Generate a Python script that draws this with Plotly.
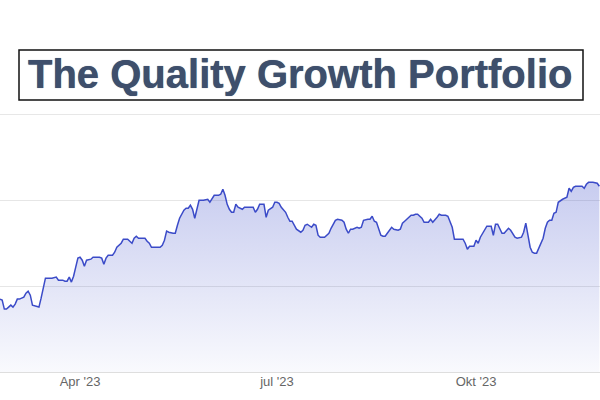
import plotly.graph_objects as go

dates = [
    "2023-02-23","2023-02-24","2023-02-25","2023-02-26","2023-02-27","2023-02-28","2023-03-01","2023-03-02",
    "2023-03-03","2023-03-04","2023-03-06","2023-03-07","2023-03-08","2023-03-09","2023-03-10","2023-03-12",
    "2023-03-13","2023-03-14","2023-03-15","2023-03-16","2023-03-17","2023-03-19","2023-03-21","2023-03-22",
    "2023-03-24","2023-03-25","2023-03-26","2023-03-27","2023-03-28","2023-03-29","2023-03-30","2023-03-31",
    "2023-04-01","2023-04-02","2023-04-03","2023-04-04","2023-04-06","2023-04-07","2023-04-09","2023-04-10",
    "2023-04-11","2023-04-12","2023-04-13","2023-04-14","2023-04-16","2023-04-17","2023-04-18","2023-04-20",
    "2023-04-21","2023-04-23","2023-04-24","2023-04-25","2023-04-26","2023-04-27","2023-04-28","2023-04-30",
    "2023-05-01","2023-05-02","2023-05-03","2023-05-04","2023-05-06","2023-05-08","2023-05-09","2023-05-10",
    "2023-05-11","2023-05-12","2023-05-14","2023-05-15","2023-05-16","2023-05-17","2023-05-19","2023-05-20",
    "2023-05-21","2023-05-22","2023-05-23","2023-05-24","2023-05-25","2023-05-26","2023-05-28","2023-05-30",
    "2023-05-31","2023-06-01","2023-06-02","2023-06-04","2023-06-05","2023-06-06","2023-06-07","2023-06-08",
    "2023-06-09","2023-06-10","2023-06-11","2023-06-12","2023-06-13","2023-06-15","2023-06-16","2023-06-19",
    "2023-06-20","2023-06-21","2023-06-22","2023-06-23","2023-06-25","2023-06-26","2023-06-27","2023-06-29",
    "2023-06-30","2023-07-01","2023-07-02","2023-07-03","2023-07-05","2023-07-06","2023-07-07","2023-07-08",
    "2023-07-09","2023-07-10","2023-07-12","2023-07-13","2023-07-14","2023-07-15","2023-07-17","2023-07-18",
    "2023-07-19","2023-07-20","2023-07-21","2023-07-23","2023-07-25","2023-07-26","2023-07-28","2023-07-29",
    "2023-07-31","2023-08-01","2023-08-02","2023-08-03","2023-08-04","2023-08-05","2023-08-07","2023-08-08",
    "2023-08-09","2023-08-10","2023-08-12","2023-08-13","2023-08-14","2023-08-15","2023-08-16","2023-08-17",
    "2023-08-18","2023-08-19","2023-08-20","2023-08-21","2023-08-23","2023-08-24","2023-08-26","2023-08-27",
    "2023-08-28","2023-08-29","2023-08-30","2023-09-01","2023-09-02","2023-09-03","2023-09-04","2023-09-06",
    "2023-09-07","2023-09-09","2023-09-10","2023-09-11","2023-09-13","2023-09-14","2023-09-15","2023-09-17",
    "2023-09-18","2023-09-19","2023-09-20","2023-09-21","2023-09-22","2023-09-25","2023-09-26","2023-09-27",
    "2023-09-28","2023-09-29","2023-09-30","2023-10-01","2023-10-02","2023-10-03","2023-10-04","2023-10-06",
    "2023-10-07","2023-10-08","2023-10-09","2023-10-10","2023-10-11","2023-10-12","2023-10-13","2023-10-14",
    "2023-10-16","2023-10-17","2023-10-18","2023-10-19","2023-10-20","2023-10-22","2023-10-23","2023-10-24",
    "2023-10-25","2023-10-26","2023-10-27","2023-10-28","2023-10-29","2023-10-30","2023-10-31","2023-11-01",
    "2023-11-02","2023-11-03","2023-11-04","2023-11-05","2023-11-06","2023-11-07","2023-11-08","2023-11-09",
    "2023-11-10","2023-11-12","2023-11-13","2023-11-14","2023-11-15","2023-11-16","2023-11-19","2023-11-20",
    "2023-11-21","2023-11-22","2023-11-24","2023-11-26","2023-11-27",
]

values = [
    8.49, 8.37, 7.33, 7.33, 7.56, 7.79, 7.56, 7.91,
    8.49, 8.49, 8.72, 9.19, 9.42, 8.95, 7.79, 7.67,
    7.56, 8.60, 9.77, 10.93, 10.93, 10.93, 11.05, 10.70,
    10.70, 10.58, 10.58, 11.05, 10.47, 11.16, 12.21, 13.26,
    13.37, 13.02, 12.33, 13.02, 13.14, 13.37, 13.37, 13.37,
    13.26, 12.56, 13.26, 13.60, 13.60, 13.95, 14.53, 15.00,
    15.47, 15.47, 15.23, 15.00, 15.58, 15.81, 15.58, 15.58,
    15.58, 15.23, 15.00, 14.53, 14.53, 14.53, 14.77, 15.35,
    16.40, 16.28, 16.16, 16.16, 17.09, 17.91, 18.84, 19.07,
    19.07, 19.42, 18.95, 17.91, 18.95, 20.00, 20.00, 20.12,
    19.77, 20.12, 20.58, 20.58, 20.70, 21.28, 20.58, 19.53,
    18.95, 18.60, 18.60, 19.53, 19.19, 18.95, 19.19, 19.19,
    19.19, 18.60, 18.95, 19.53, 19.53, 18.02, 18.84, 19.19,
    19.77, 19.77, 19.65, 19.19, 18.60, 18.02, 17.56, 17.56,
    17.09, 16.63, 16.28, 16.51, 17.09, 17.21, 16.86, 17.21,
    17.09, 15.93, 15.70, 15.70, 16.16, 16.74, 17.67, 17.79,
    17.67, 17.44, 16.63, 16.16, 16.63, 16.63, 16.86, 16.74,
    16.86, 17.67, 17.79, 17.79, 18.14, 17.56, 17.44, 16.63,
    15.93, 15.81, 15.81, 16.16, 16.86, 16.63, 16.51, 16.63,
    17.33, 17.56, 17.79, 18.26, 18.26, 18.37, 18.37, 17.91,
    17.44, 17.44, 17.79, 17.44, 18.02, 18.37, 18.26, 18.26,
    18.14, 17.44, 16.86, 15.47, 15.47, 15.47, 15.00, 14.30,
    14.65, 14.65, 14.65, 15.35, 15.00, 15.70, 16.16, 16.98,
    16.98, 16.98, 15.93, 17.21, 17.21, 16.74, 16.16, 16.16,
    16.74, 16.51, 16.05, 15.70, 15.58, 15.70, 16.28, 17.33,
    15.93, 14.53, 13.95, 13.84, 13.84, 14.42, 15.12, 15.58,
    16.74, 17.44, 17.67, 17.67, 18.49, 18.60, 19.77, 20.00,
    20.12, 20.35, 21.40, 21.05, 21.51, 21.63, 21.63, 21.40,
    21.86, 22.09, 22.09, 21.98, 21.63,
]

tick_dates = ["2023-04-01", "2023-07-01", "2023-10-01"]
tick_labels = ["Apr '23", "jul '23", "Okt '23"]
title_text = "The Quality Growth Portfolio"
y_top = 30

fig = go.Figure()
fig.add_trace(go.Scatter(
    x=dates, y=values, mode="lines",
    line=dict(color="#3b4bc8", width=1.5),
    fill="tozeroy",
    fillgradient=dict(type="vertical",
                      colorscale=[[0, "rgba(59,75,200,0.03)"], [1, "rgba(59,75,200,0.28)"]],
                      start=0, stop=22),
    hoverinfo="skip",
))

fig.update_layout(
    width=600, height=400,
    margin=dict(l=0, r=0, t=114, b=28),
    paper_bgcolor="white", plot_bgcolor="white",
    showlegend=False,
    hovermode=False,
    xaxis=dict(
        type="date",
        range=["2023-02-23", "2023-11-27 07:00"],
        tickvals=tick_dates, ticktext=tick_labels,
        showgrid=False, showline=True, linecolor="#dedede", linewidth=1,
        ticks="", ticklabelstandoff=-3,
        tickfont=dict(family="Liberation Sans, Arial", size=13, color="#666666"),
        zeroline=False,
    ),
    yaxis=dict(
        range=[0, 30.05], dtick=10, showticklabels=False,
        gridcolor="#e6e6e6", gridwidth=1, zeroline=False, showline=False,
    ),
    shapes=[
        dict(type="line", xref="paper", yref="y", x0=0, x1=1, y0=y_top, y1=y_top,
             line=dict(color="#e6e6e6", width=1), layer="below"),
        dict(type="rect", xref="paper", yref="paper",
             x0=19/600, x1=583/600, y0=1.054, y1=1.248,
             line=dict(color="#111111", width=1.5), fillcolor="white"),
    ],
    annotations=[dict(
        x=0.5, y=1.155, xref="paper", yref="paper",
        xanchor="center", yanchor="middle", showarrow=False,
        text="<b>" + title_text + "</b>",
        font=dict(family="Liberation Sans, Arial", size=40, color="#3e4f6c",
                  shadow="0 0 0.7px #3e4f6c"),
    )],
)

fig.write_html("out.html", config={"displayModeBar": False, "staticPlot": True},
               post_script="document.body.style.margin='0';")
